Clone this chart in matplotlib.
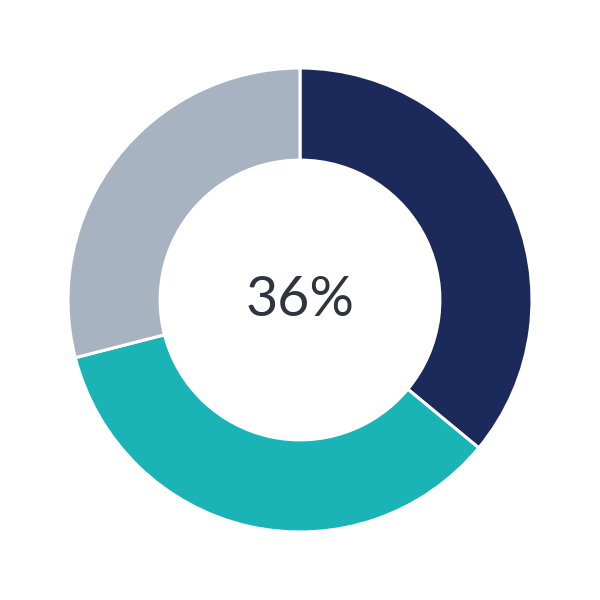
import matplotlib
matplotlib.use("Agg")
import matplotlib.pyplot as plt

labels = ["A", "B", "C"]
values = [36, 35, 29]
colors = ["#1b2a5a", "#1ab3b6", "#a8b3c1"]
center_text = "36%"

fig = plt.figure(figsize=(6, 6), dpi=100)
ax = fig.add_axes([0, 0, 1, 1])
ax.pie(values, colors=colors, startangle=90, counterclock=False,
       radius=1.0,
       wedgeprops=dict(width=0.397, edgecolor="white", linewidth=2.2))
lim = 300 / 232
ax.set_xlim(-lim, lim)
ax.set_ylim(-lim, lim)
ax.set_aspect("equal")
ax.axis("off")
ax.text(0, 0, center_text, ha="center", va="center", fontsize=40,
        family=["Lato", "DejaVu Sans"], fontweight="normal", color="#30343f")
fig.savefig("out.png", dpi=100, facecolor="white")
